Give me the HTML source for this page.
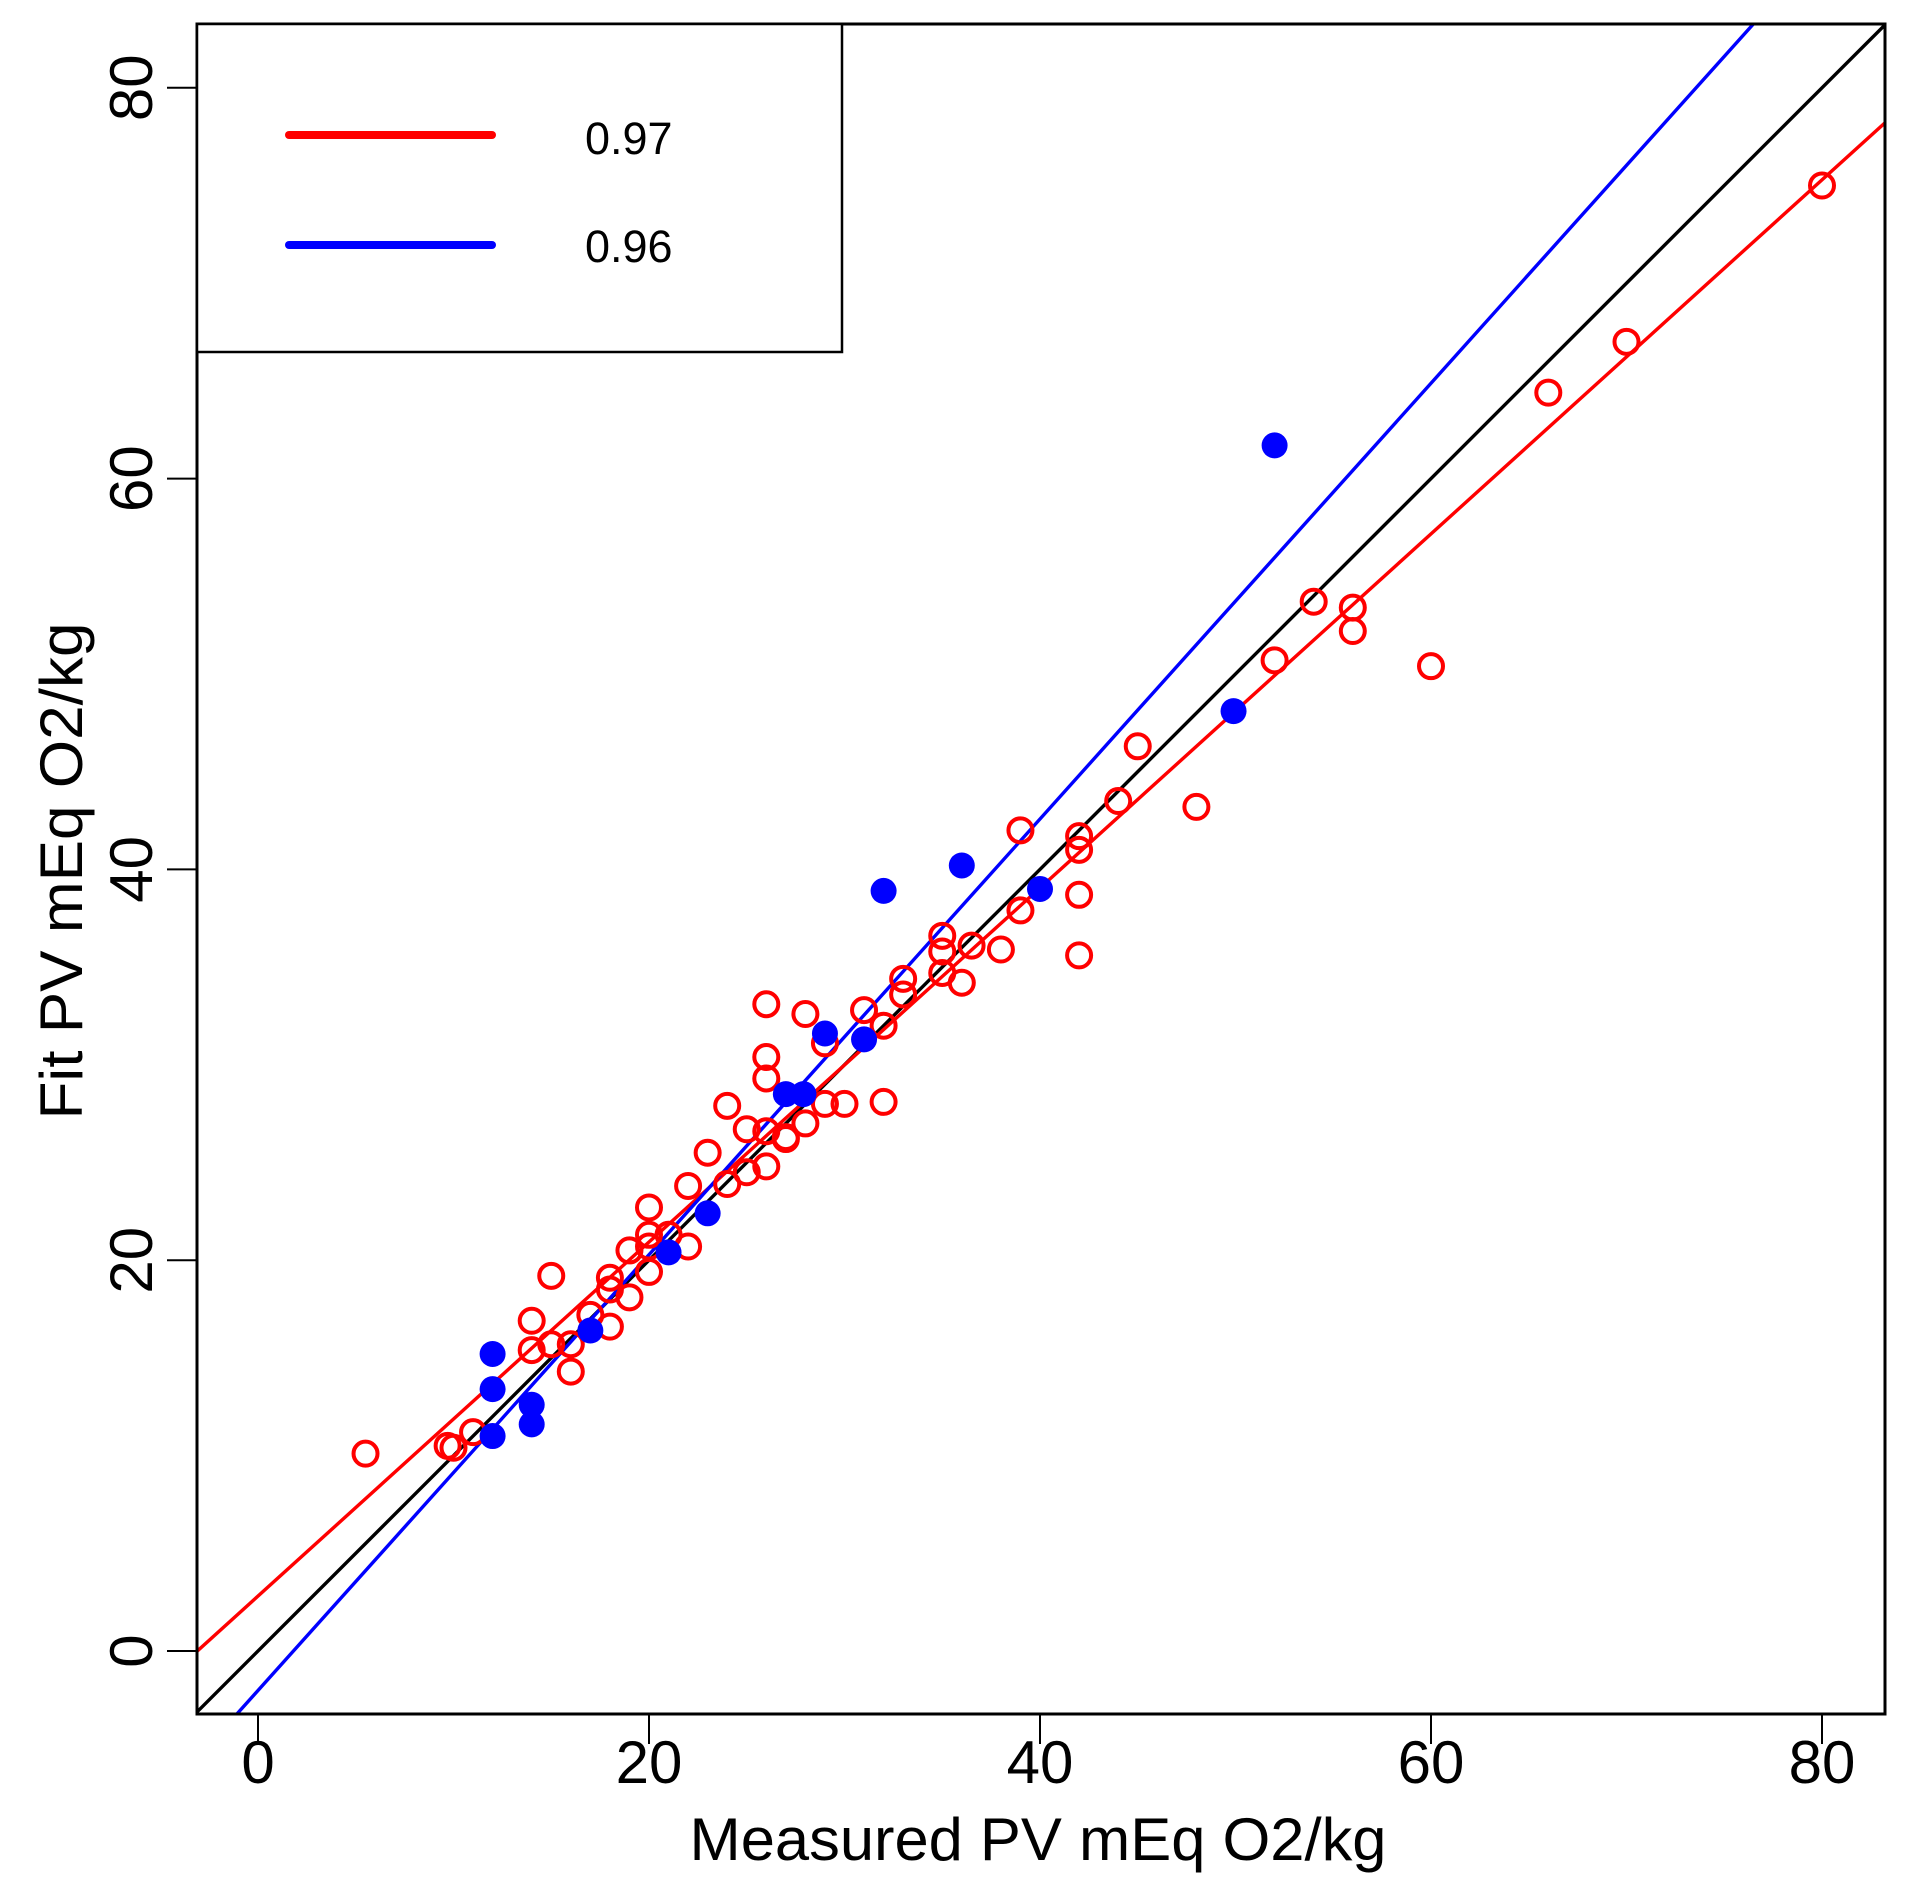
<!DOCTYPE html>
<html><head><meta charset="utf-8"><style>
html,body{margin:0;padding:0;background:#fff;}
svg{display:block;font-family:"Liberation Sans",Arial,sans-serif;}
</style></head><body>
<svg id="chart" width="1906" height="1891" viewBox="0 0 1906 1891" xmlns="http://www.w3.org/2000/svg">
<g id="lines"></g>
<g id="points"></g>
<rect x="197" y="24" width="1688" height="1690" fill="none" stroke="#000" stroke-width="3"/>
<g id="xaxis"></g>
<g id="yaxis"></g>
<text x="1038" y="1860" font-size="60" text-anchor="middle" textLength="697" lengthAdjust="spacingAndGlyphs">Measured PV mEq O2/kg</text>
<text transform="translate(82,871) rotate(-90)" font-size="60" text-anchor="middle" textLength="497" lengthAdjust="spacingAndGlyphs">Fit PV mEq O2/kg</text>
<g>
<rect x="197" y="24" width="645" height="328" fill="#fff" stroke="#000" stroke-width="2.5"/>
<line x1="289" y1="135" x2="492" y2="135" stroke="#ff0000" stroke-width="8" stroke-linecap="round"/>
<text x="585" y="154" font-size="45">0.97</text>
<line x1="289" y1="245" x2="492" y2="245" stroke="#0000ff" stroke-width="8" stroke-linecap="round"/>
<text x="585" y="262" font-size="45">0.96</text>
</g>
</svg>
<script>
const xTicks = [0, 20, 40, 60, 80];
const yTicks = [0, 20, 40, 60, 80];
const blueX = [12,12,12,14,14,17,21,23,27,27.9,29,31,32,36,40,49.9,52];
const blueY = [15.2,13.4,11.0,12.6,11.6,16.4,20.4,22.4,28.5,28.5,31.6,31.3,38.9,40.2,39.0,48.1,61.7];
const redX = [5.5,9.7,10,11,14,14,15,15,16,16,17,18,18,18,19,19,20,20,20,20,21,22,22,23,24,24,25,25,26,26,26,26,26,27,27,28,28,29,29,30,31,32,32,33,33,35,35,35,36,36.5,38,39,39,42,42,42,42,44,45,48,52,54,56,56,60,66,70,80];
const redY = [10.1,10.5,10.4,11.2,16.9,15.4,19.2,15.7,14.3,15.7,17.2,19.1,16.6,18.5,20.5,18.1,22.7,21.3,19.4,20.7,21.3,23.8,20.7,25.5,27.9,23.9,26.7,24.5,33.1,30.4,29.3,24.8,26.6,26.3,26.2,32.6,27.0,31.1,28.0,28.0,32.8,32.0,28.1,34.4,33.6,36.6,35.8,34.7,34.2,36.1,35.9,42.0,37.9,41.7,41.0,38.7,35.6,43.5,46.3,43.2,50.7,53.7,53.4,52.2,50.4,64.4,67.0,75.0];
const fitSlopes = [1, 0.906, 1.115];
const fitIntercepts = [0, 2.81, -2.02];
const fitColors = ['#000000', '#ff0000', '#0000ff'];
const fitNames = ['identity-line', 'red-fit-line', 'blue-fit-line'];

const NS = 'http://www.w3.org/2000/svg';
const X0 = 258, XS = 19.55, Y0 = 1651, YS = 19.54;
const PL = 197, PR = 1885, PT = 24, PB = 1714;
function sx(v){ return X0 + v * XS; }
function sy(v){ return Y0 - v * YS; }
function vx(p){ return (p - X0) / XS; }
function mk(tag, attrs, parent){
  const e = document.createElementNS(NS, tag);
  for (const k in attrs) e.setAttribute(k, attrs[k]);
  parent.appendChild(e);
  return e;
}
const xa = document.getElementById('xaxis');
xTicks.forEach(t => {
  const l = mk('line', {x1: sx(t), x2: sx(t), y1: PB, y2: PB + 30, stroke: '#000', 'stroke-width': 2}, xa);
  
  
  const tx = mk('text', {x: sx(t), y: 1783, 'font-size': 60, 'text-anchor': 'middle'}, xa);
  tx.textContent = t;
  
  
});
const ya = document.getElementById('yaxis');
yTicks.forEach(t => {
  const l = mk('line', {x1: PL - 30, x2: PL, y1: sy(t), y2: sy(t), stroke: '#000', 'stroke-width': 2}, ya);
  
  
  const tx = mk('text', {transform: 'translate(152,' + sy(t) + ') rotate(-90)', 'font-size': 60, 'text-anchor': 'middle'}, ya);
  tx.textContent = t;
  
  
});
const lg = document.getElementById('lines');
const defs = mk('defs', {}, document.getElementById('chart'));
const cp = mk('clipPath', {id: 'clip'}, defs);
mk('rect', {x: PL, y: PT, width: PR - PL, height: PB - PT}, cp);
lg.setAttribute('clip-path', 'url(#clip)');
fitSlopes.forEach((m, i) => {
  const b = fitIntercepts[i];
  const xa0 = vx(PL) - 2, xa1 = vx(PR) + 2;
  const l = mk('line', {x1: sx(xa0), y1: sy(m * xa0 + b), x2: sx(xa1), y2: sy(m * xa1 + b), stroke: fitColors[i], 'stroke-width': 3.4}, lg);
  
  
});
const pg = document.getElementById('points');
redX.forEach((x, i) => {
  const c = mk('circle', {cx: sx(x), cy: sy(redY[i]), r: 12, fill: 'none', stroke: '#ff0000', 'stroke-width': 4}, pg);
  
  
});
blueX.forEach((x, i) => {
  const c = mk('circle', {cx: sx(x), cy: sy(blueY[i]), r: 13, fill: '#0000ff'}, pg);
  
  
});
</script>
</body></html>
